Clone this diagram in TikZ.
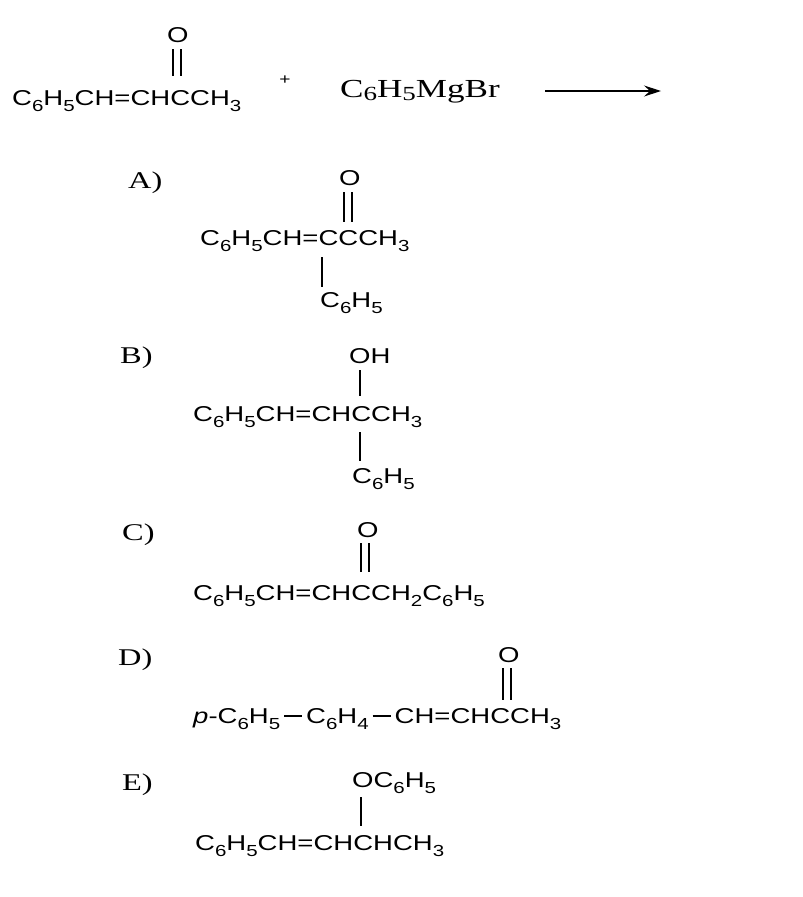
\documentclass[tikz,border=0pt]{standalone}
\usepackage{fontspec}
\usetikzlibrary{arrows.meta}
\setmainfont{Liberation Sans}[FakeStretch=1.28]
\newfontfamily\tms{Liberation Serif}[FakeStretch=1.35]
\newcommand\sbs[1]{\raisebox{-0.28em}{\fontsize{16}{16}\selectfont #1}}
\newcommand\tsb[1]{\raisebox{-.2ex}{\fontsize{20}{20}\selectfont #1}}
\newcommand\dbond{\kern4pt\rule[.3em]{18pt}{2.2pt}\kern4pt}
\begin{document}
\begin{tikzpicture}[x=1pt,y=-1pt,
  chem/.style={anchor=west,inner sep=0pt,font=\fontsize{21.5}{21.5}\selectfont},
  lab/.style={anchor=west,inner sep=0pt,font=\tms\fontsize{24}{24}\selectfont},
  bond/.style={line width=1.2pt}]
\useasboundingbox (0,0) rectangle (803,897);
% top
\node[chem] (r1) at (12,101) {C\sbs6H\sbs5CH=CHCCH\sbs3};
\node[chem] (o0) at (167,35) {O};
\draw[bond] (173,49) -- (173,76) (181,49) -- (181,76);
\node[inner sep=0pt,font=\fontsize{15}{15}\selectfont] (plus) at (285,80) {+};
\node[inner sep=0pt,anchor=west,font=\tms\fontsize{26}{26}\selectfont] (g) at (340,92) {C\tsb6H\tsb5MgBr};
\coordinate (a0) at (545,91); \coordinate (a1) at (661,91);
\draw[line width=1.2pt,-{Stealth[length=17pt,width=11pt,inset=6pt]}] (a0) -- (a1);
% A
\node[lab] (la) at (128,183) {A)};
\node[chem] (ta) at (200,241) {C\sbs6H\sbs5CH=CCCH\sbs3};
\node[chem] (oa) at (339,178) {O};
\draw[bond] (344,192) -- (344,222) (352,192) -- (352,222);
\draw[bond] (322,257) -- (322,287);
\node[chem] (pa) at (320,303) {C\sbs6H\sbs5};
% B
\node[lab] (lb) at (120,358) {B)};
\node[chem] (ohb) at (349,356) {OH};
\draw[bond] (360,370) -- (360,396);
\node[chem] (tb) at (193,417) {C\sbs6H\sbs5CH=CHCCH\sbs3};
\draw[bond] (360,432) -- (360,461);
\node[chem] (pb) at (352,479) {C\sbs6H\sbs5};
% C
\node[lab] (lc) at (122,535) {C)};
\node[chem] (oc) at (357,530) {O};
\draw[bond] (361,543) -- (361,572) (369,543) -- (369,572);
\node[chem] (tc) at (193,596) {C\sbs6H\sbs5CH=CHCCH\sbs2C\sbs6H\sbs5};
% D
\node[lab] (ld) at (118,660) {D)};
\node[chem] (od) at (498,655) {O};
\draw[bond] (503,668) -- (503,700) (511,668) -- (511,700);
\node[chem] (td) at (193,719) {\textit{p}-C\sbs6H\sbs5\dbond C\sbs6H\sbs4\dbond CH=CHCCH\sbs3};
% E
\node[lab] (le) at (122,785) {E)};
\node[chem] (oe) at (352,783) {OC\sbs6H\sbs5};
\draw[bond] (361,797) -- (361,826);
\node[chem] (te) at (195,846) {C\sbs6H\sbs5CH=CHCHCH\sbs3};
\end{tikzpicture}
\end{document}
